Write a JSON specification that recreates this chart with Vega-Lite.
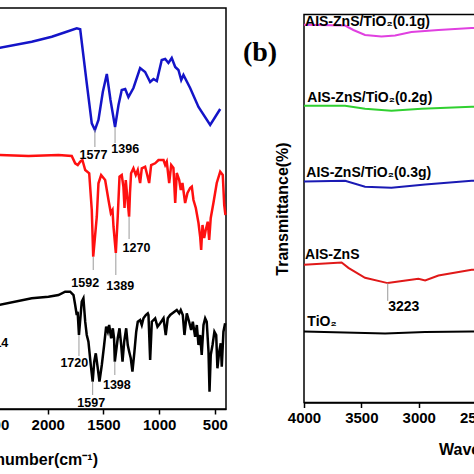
{
  "$schema": "https://vega.github.io/schema/vega-lite/v6.json",
  "background": "white",
  "padding": {"left": -193, "top": 7, "right": -237, "bottom": 0},
  "spacing": 78,
  "bounds": "flush",
  "center": true,
  "config": {
    "font": "Liberation Sans",
    "view": {"stroke": "black", "strokeWidth": 1.5},
    "axis": {
      "labelFont": "Liberation Sans", "labelFontWeight": "bold", "labelFontSize": 15, "labelColor": "black",
      "titleFont": "Liberation Sans", "titleFontWeight": "bold", "titleFontSize": 16, "titleColor": "black",
      "tickColor": "black", "tickSize": 5, "tickWidth": 1.5, "domainColor": "black", "domainWidth": 1.5,
      "grid": false, "labelPadding": 3, "labelOverlap": false, "labelFlush": false, "format": "d"
    }
  },
  "datasets": {
    "a_lines": [
      {"s":"A1","wn":4000,"t":330},{"s":"A1","wn":3600,"t":322},{"s":"A1","wn":3300,"t":316},{"s":"A1","wn":3000,"t":335},{"s":"A1","wn":2700,"t":350},{"s":"A1","wn":2443,"t":361},{"s":"A1","wn":2144,"t":367.3},{"s":"A1","wn":1964,"t":372.3},{"s":"A1","wn":1844,"t":376.7},{"s":"A1","wn":1740,"t":380.7},{"s":"A1","wn":1709,"t":379.7},{"s":"A1","wn":1650,"t":325.7},{"s":"A1","wn":1605,"t":285.7},{"s":"A1","wn":1577,"t":279},{"s":"A1","wn":1545,"t":289},{"s":"A1","wn":1506,"t":317},{"s":"A1","wn":1470,"t":335},{"s":"A1","wn":1437,"t":309},{"s":"A1","wn":1396,"t":282},{"s":"A1","wn":1365,"t":304},{"s":"A1","wn":1336,"t":319},{"s":"A1","wn":1305,"t":320},{"s":"A1","wn":1276,"t":312},{"s":"A1","wn":1231,"t":321},{"s":"A1","wn":1171,"t":341},{"s":"A1","wn":1126,"t":337},{"s":"A1","wn":1081,"t":327},{"s":"A1","wn":1051,"t":330},{"s":"A1","wn":1021,"t":328},{"s":"A1","wn":977,"t":349},{"s":"A1","wn":946,"t":350},{"s":"A1","wn":917,"t":346},{"s":"A1","wn":887,"t":351},{"s":"A1","wn":856,"t":342},{"s":"A1","wn":827,"t":339},{"s":"A1","wn":802,"t":329},{"s":"A1","wn":782,"t":334},{"s":"A1","wn":722,"t":321},{"s":"A1","wn":647,"t":302},{"s":"A1","wn":542,"t":284},{"s":"A1","wn":452,"t":300},
      {"s":"A2","wn":4000,"t":254},{"s":"A2","wn":3600,"t":250},{"s":"A2","wn":3300,"t":245},{"s":"A2","wn":3000,"t":252},{"s":"A2","wn":2443,"t":254},{"s":"A2","wn":2173,"t":253},{"s":"A2","wn":1904,"t":254},{"s":"A2","wn":1785,"t":253},{"s":"A2","wn":1754,"t":245.7},{"s":"A2","wn":1731,"t":244},{"s":"A2","wn":1709,"t":247.3},{"s":"A2","wn":1689,"t":249},{"s":"A2","wn":1664,"t":239},{"s":"A2","wn":1628,"t":235.7},{"s":"A2","wn":1605,"t":199},{"s":"A2","wn":1592,"t":152.3},{"s":"A2","wn":1560,"t":192.3},{"s":"A2","wn":1545,"t":225.7},{"s":"A2","wn":1521,"t":234},{"s":"A2","wn":1485,"t":229},{"s":"A2","wn":1455,"t":209},{"s":"A2","wn":1434,"t":196},{"s":"A2","wn":1419,"t":199},{"s":"A2","wn":1410,"t":182.3},{"s":"A2","wn":1389,"t":156},{"s":"A2","wn":1372,"t":192.3},{"s":"A2","wn":1356,"t":232.3},{"s":"A2","wn":1336,"t":234},{"s":"A2","wn":1321,"t":222.3},{"s":"A2","wn":1311,"t":201},{"s":"A2","wn":1300,"t":229},{"s":"A2","wn":1270,"t":192.3},{"s":"A2","wn":1262,"t":216},{"s":"A2","wn":1252,"t":235.7},{"s":"A2","wn":1231,"t":240.7},{"s":"A2","wn":1210,"t":234},{"s":"A2","wn":1192,"t":239},{"s":"A2","wn":1171,"t":226},{"s":"A2","wn":1156,"t":240.7},{"s":"A2","wn":1126,"t":242.3},{"s":"A2","wn":1111,"t":235.7},{"s":"A2","wn":1090,"t":226},{"s":"A2","wn":1072,"t":244},{"s":"A2","wn":1036,"t":245.7},{"s":"A2","wn":1006,"t":249},{"s":"A2","wn":961,"t":249},{"s":"A2","wn":946,"t":244},{"s":"A2","wn":932,"t":247.3},{"s":"A2","wn":910,"t":226},{"s":"A2","wn":892,"t":244},{"s":"A2","wn":872,"t":241},{"s":"A2","wn":856,"t":206},{"s":"A2","wn":842,"t":236},{"s":"A2","wn":820,"t":229},{"s":"A2","wn":806,"t":219},{"s":"A2","wn":791,"t":226},{"s":"A2","wn":767,"t":206},{"s":"A2","wn":746,"t":216},{"s":"A2","wn":722,"t":221},{"s":"A2","wn":707,"t":222.3},{"s":"A2","wn":692,"t":209},{"s":"A2","wn":671,"t":201},{"s":"A2","wn":647,"t":186},{"s":"A2","wn":632,"t":172.3},{"s":"A2","wn":623,"t":159},{"s":"A2","wn":611,"t":184},{"s":"A2","wn":596,"t":171},{"s":"A2","wn":582,"t":179},{"s":"A2","wn":564,"t":187.3},{"s":"A2","wn":551,"t":169},{"s":"A2","wn":537,"t":191},{"s":"A2","wn":513,"t":206},{"s":"A2","wn":483,"t":226},{"s":"A2","wn":452,"t":237.3},{"s":"A2","wn":429,"t":234},{"s":"A2","wn":416,"t":204},{"s":"A2","wn":405,"t":194},
      {"s":"A3","wn":4000,"t":100},{"s":"A3","wn":3700,"t":98},{"s":"A3","wn":3414,"t":75},{"s":"A3","wn":3100,"t":95},{"s":"A3","wn":2800,"t":100},{"s":"A3","wn":2443,"t":104},{"s":"A3","wn":2144,"t":110.7},{"s":"A3","wn":1994,"t":112.3},{"s":"A3","wn":1904,"t":114},{"s":"A3","wn":1844,"t":117.3},{"s":"A3","wn":1799,"t":117.3},{"s":"A3","wn":1769,"t":114},{"s":"A3","wn":1754,"t":104},{"s":"A3","wn":1740,"t":94},{"s":"A3","wn":1732,"t":97.3},{"s":"A3","wn":1720,"t":74},{"s":"A3","wn":1695,"t":107.3},{"s":"A3","wn":1680,"t":110.7},{"s":"A3","wn":1664,"t":87.3},{"s":"A3","wn":1650,"t":74},{"s":"A3","wn":1635,"t":67.3},{"s":"A3","wn":1614,"t":44},{"s":"A3","wn":1597,"t":27.3},{"s":"A3","wn":1583,"t":47.3},{"s":"A3","wn":1569,"t":55.7},{"s":"A3","wn":1551,"t":40.7},{"s":"A3","wn":1536,"t":27.3},{"s":"A3","wn":1515,"t":44},{"s":"A3","wn":1494,"t":64},{"s":"A3","wn":1476,"t":82.3},{"s":"A3","wn":1461,"t":77.3},{"s":"A3","wn":1449,"t":84},{"s":"A3","wn":1431,"t":70.7},{"s":"A3","wn":1416,"t":80.7},{"s":"A3","wn":1405,"t":70.7},{"s":"A3","wn":1398,"t":47.3},{"s":"A3","wn":1372,"t":70.7},{"s":"A3","wn":1356,"t":80.7},{"s":"A3","wn":1341,"t":64},{"s":"A3","wn":1329,"t":47.3},{"s":"A3","wn":1314,"t":67.3},{"s":"A3","wn":1296,"t":80.7},{"s":"A3","wn":1282,"t":64},{"s":"A3","wn":1269,"t":57.3},{"s":"A3","wn":1255,"t":50.7},{"s":"A3","wn":1240,"t":37.3},{"s":"A3","wn":1222,"t":57.3},{"s":"A3","wn":1206,"t":77.3},{"s":"A3","wn":1192,"t":87.3},{"s":"A3","wn":1171,"t":89},{"s":"A3","wn":1156,"t":84},{"s":"A3","wn":1141,"t":90.7},{"s":"A3","wn":1120,"t":94},{"s":"A3","wn":1102,"t":95.7},{"s":"A3","wn":1096,"t":94},{"s":"A3","wn":1081,"t":49},{"s":"A3","wn":1066,"t":87.3},{"s":"A3","wn":1036,"t":90.7},{"s":"A3","wn":1015,"t":82.3},{"s":"A3","wn":991,"t":85.7},{"s":"A3","wn":961,"t":90.7},{"s":"A3","wn":941,"t":74},{"s":"A3","wn":923,"t":90.7},{"s":"A3","wn":901,"t":94},{"s":"A3","wn":881,"t":95.7},{"s":"A3","wn":863,"t":97.3},{"s":"A3","wn":842,"t":99},{"s":"A3","wn":820,"t":95.7},{"s":"A3","wn":806,"t":99},{"s":"A3","wn":788,"t":94},{"s":"A3","wn":773,"t":74},{"s":"A3","wn":752,"t":95.7},{"s":"A3","wn":731,"t":87.3},{"s":"A3","wn":713,"t":79},{"s":"A3","wn":698,"t":87.3},{"s":"A3","wn":677,"t":72.3},{"s":"A3","wn":662,"t":84},{"s":"A3","wn":647,"t":64},{"s":"A3","wn":632,"t":74},{"s":"A3","wn":618,"t":54},{"s":"A3","wn":602,"t":84},{"s":"A3","wn":587,"t":90.7},{"s":"A3","wn":573,"t":87.3},{"s":"A3","wn":557,"t":57.3},{"s":"A3","wn":548,"t":17.3},{"s":"A3","wn":537,"t":54},{"s":"A3","wn":521,"t":64},{"s":"A3","wn":504,"t":77.3},{"s":"A3","wn":488,"t":74},{"s":"A3","wn":477,"t":40.7},{"s":"A3","wn":461,"t":57.3},{"s":"A3","wn":447,"t":65.7},{"s":"A3","wn":438,"t":42.3},{"s":"A3","wn":423,"t":77.3},{"s":"A3","wn":408,"t":85.7}
    ],
    "a_labels": [
      {"text":"1577","wn":1590,"t":254},{"text":"1396","wn":1305,"t":260},{"text":"1592","wn":1664,"t":126},{"text":"1389","wn":1350,"t":123},{"text":"1270","wn":1204,"t":161},{"text":"1720","wn":1762,"t":46},{"text":"1398","wn":1380,"t":24},{"text":"1597","wn":1610,"t":6},{"text":"3414","wn":2479,"t":66}
    ],
    "a_rules": [
      {"wn":1577,"t1":279,"t2":262},{"wn":1396,"t1":282,"t2":266},{"wn":1592,"t1":152.3,"t2":139},{"wn":1389,"t1":156,"t2":134},{"wn":1270,"t1":192.3,"t2":170},{"wn":1720,"t1":74,"t2":53},{"wn":1398,"t1":47.3,"t2":34},{"wn":1597,"t1":27.3,"t2":14}
    ],
    "b_lines": [
      {"s":"0.1g","wn":4000,"t":377.7},{"s":"0.1g","wn":3642,"t":377},{"s":"0.1g","wn":3570,"t":372.5},{"s":"0.1g","wn":3468,"t":367.5},{"s":"0.1g","wn":3325,"t":366},{"s":"0.1g","wn":3206,"t":367},{"s":"0.1g","wn":3064,"t":370.5},{"s":"0.1g","wn":2828,"t":372.5},{"s":"0.1g","wn":2540,"t":374.4},{"s":"0.1g","wn":2000,"t":375},{"s":"0.1g","wn":1000,"t":374},{"s":"0.1g","wn":400,"t":374},
      {"s":"0.2g","wn":4000,"t":296.7},{"s":"0.2g","wn":3642,"t":296.7},{"s":"0.2g","wn":3468,"t":293.7},{"s":"0.2g","wn":3238,"t":291.7},{"s":"0.2g","wn":2976,"t":293.7},{"s":"0.2g","wn":2538,"t":295.7},{"s":"0.2g","wn":2000,"t":296},{"s":"0.2g","wn":1000,"t":295},{"s":"0.2g","wn":400,"t":295},
      {"s":"0.3g","wn":4000,"t":221},{"s":"0.3g","wn":3642,"t":221.7},{"s":"0.3g","wn":3468,"t":215.7},{"s":"0.3g","wn":3238,"t":214.7},{"s":"0.3g","wn":2944,"t":218},{"s":"0.3g","wn":2538,"t":221.7},{"s":"0.3g","wn":2000,"t":222},{"s":"0.3g","wn":1000,"t":221},{"s":"0.3g","wn":400,"t":221},
      {"s":"AIS-ZnS","wn":4000,"t":137.7},{"s":"AIS-ZnS","wn":3672,"t":140},{"s":"AIS-ZnS","wn":3613,"t":134.7},{"s":"AIS-ZnS","wn":3468,"t":124.7},{"s":"AIS-ZnS","wn":3270,"t":119.4},{"s":"AIS-ZnS","wn":3177,"t":121},{"s":"AIS-ZnS","wn":3003,"t":123.7},{"s":"AIS-ZnS","wn":2944,"t":122},{"s":"AIS-ZnS","wn":2828,"t":127},{"s":"AIS-ZnS","wn":2538,"t":132.7},{"s":"AIS-ZnS","wn":2000,"t":135},{"s":"AIS-ZnS","wn":1000,"t":134},{"s":"AIS-ZnS","wn":400,"t":134},
      {"s":"TiO2","wn":4000,"t":71},{"s":"TiO2","wn":3468,"t":69.4},{"s":"TiO2","wn":3293,"t":69},{"s":"TiO2","wn":2944,"t":70.4},{"s":"TiO2","wn":2538,"t":71},{"s":"TiO2","wn":2000,"t":71},{"s":"TiO2","wn":1000,"t":70},{"s":"TiO2","wn":400,"t":70}
    ],
    "b_labels": [
      {"text":"AIS-ZnS/TiO₂(0.1g)","wn":3991,"t":381},{"text":"AIS-ZnS/TiO₂(0.2g)","wn":3971,"t":304.7},{"text":"AIS-ZnS/TiO₂(0.3g)","wn":3980,"t":229.7},{"text":"AIS-ZnS","wn":3991,"t":147.7},{"text":"TiO₂","wn":3971,"t":81},{"text":"3223","wn":3266,"t":96}
    ],
    "b_rules": [
      {"wn":3270,"t1":119.4,"t2":101.7}
    ],
    "b_tag": [
      {"text":"(b)","wn":4383,"t":349.7}
    ]
  },
  "hconcat": [
    {
      "width": 401, "height": 401,
      "layer": [
        {
          "data": {"name": "a_lines"},
          "mark": {"type": "line", "strokeWidth": 2.5},
          "encoding": {
            "x": {"field": "wn", "type": "quantitative", "scale": {"domain": [4000, 400], "nice": false},
                  "axis": {"values": [4000, 3500, 3000, 2500, 2000, 1500, 1000, 500], "title": "Wavenumber(cm⁻¹)", "titlePadding": 19}},
            "y": {"field": "t", "type": "quantitative", "scale": {"domain": [0, 401], "nice": false}, "axis": null},
            "color": {"field": "s", "type": "nominal", "legend": null,
                      "scale": {"domain": ["A1","A2","A3","0.1g","0.2g","0.3g","AIS-ZnS","TiO2"],
                                "range": ["#1414c8","#ff1010","#000000","#e040e0","#30d030","#1a1ab4","#e01818","#000000"]}}
          }
        },
        {
          "data": {"name": "a_rules"},
          "mark": {"type": "rule", "color": "#9a9a9a", "strokeWidth": 1},
          "encoding": {
            "x": {"field": "wn", "type": "quantitative"},
            "y": {"field": "t1", "type": "quantitative"},
            "y2": {"field": "t2"}
          }
        },
        {
          "data": {"name": "a_labels"},
          "mark": {"type": "text", "font": "Liberation Sans", "fontWeight": "bold", "fontSize": 12.5, "color": "black", "align": "center", "baseline": "middle"},
          "encoding": {
            "x": {"field": "wn", "type": "quantitative"},
            "y": {"field": "t", "type": "quantitative"},
            "text": {"field": "text"}
          }
        }
      ]
    },
    {
      "width": 413, "height": 388,
      "layer": [
        {
          "data": {"name": "b_lines"},
          "mark": {"type": "line", "strokeWidth": 2},
          "encoding": {
            "x": {"field": "wn", "type": "quantitative", "scale": {"domain": [4000, 400], "nice": false},
                  "axis": {"values": [4000, 3500, 3000, 2500, 2000, 1500, 1000, 500], "title": "Wavenumber(cm⁻¹)", "titlePadding": 16}},
            "y": {"field": "t", "type": "quantitative", "scale": {"domain": [0, 388], "nice": false},
                  "axis": {"title": "Transmittance(%)", "labels": false, "ticks": false, "domain": false, "titlePadding": 14}},
            "color": {"field": "s", "type": "nominal", "legend": null,
                      "scale": {"domain": ["A1","A2","A3","0.1g","0.2g","0.3g","AIS-ZnS","TiO2"],
                                "range": ["#1414c8","#ff1010","#000000","#e040e0","#30d030","#1a1ab4","#e01818","#000000"]}}
          }
        },
        {
          "data": {"name": "b_rules"},
          "mark": {"type": "rule", "color": "#9a9a9a", "strokeWidth": 1},
          "encoding": {
            "x": {"field": "wn", "type": "quantitative"},
            "y": {"field": "t1", "type": "quantitative"},
            "y2": {"field": "t2"}
          }
        },
        {
          "data": {"name": "b_labels"},
          "mark": {"type": "text", "font": "Liberation Sans", "fontWeight": "bold", "fontSize": 14, "color": "black", "align": "left", "baseline": "middle"},
          "encoding": {
            "x": {"field": "wn", "type": "quantitative"},
            "y": {"field": "t", "type": "quantitative"},
            "text": {"field": "text"}
          }
        },
        {
          "data": {"name": "b_tag"},
          "mark": {"type": "text", "font": "Liberation Serif", "fontWeight": "bold", "fontSize": 28, "color": "black", "align": "center", "baseline": "middle"},
          "encoding": {
            "x": {"field": "wn", "type": "quantitative"},
            "y": {"field": "t", "type": "quantitative"},
            "text": {"field": "text"}
          }
        }
      ]
    }
  ]
}
